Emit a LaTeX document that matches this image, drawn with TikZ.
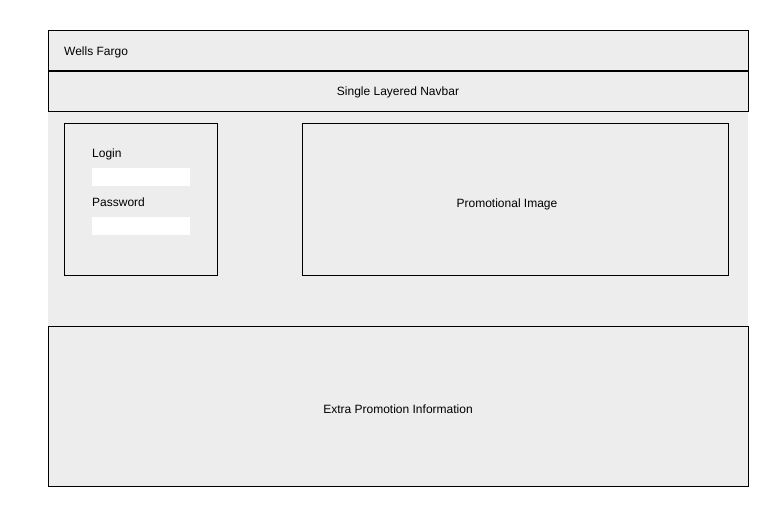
\documentclass[tikz,border=0pt]{standalone}
\usepackage{fontspec}
\setmainfont{Liberation Sans}
\definecolor{panel}{HTML}{EDEDED}
\tikzset{
  frame/.style={draw=black, fill=panel, line width=1pt},
  field/.style={fill=white, draw=none},
  lbl/.style={font=\fontsize{12}{14}\selectfont, text=black, inner sep=0pt},
}
\begin{document}
\begin{tikzpicture}[x=1pt,y=-1pt]
\useasboundingbox (0,0) rectangle (781,520);
% content background
\fill[panel] (48,111) rectangle (748,326);
% header
\draw[frame] (48,30) rectangle (748,71);
\node[lbl, anchor=west] (brand) at (64,52) {Wells Fargo};
% navbar
\draw[frame] (48,71) rectangle (748,111);
\draw[line width=2pt] (48,71) -- (748,71);
\node[lbl] (nav) at (398,92.5) {Single Layered Navbar};
% login box
\draw[frame] (64,123) rectangle (217,275);
\node[lbl, anchor=west] (login) at (92,154.5) {Login};
\fill[field] (92,168) rectangle (190,186);
\node[lbl, anchor=west] (pass) at (92,202.5) {Password};
\fill[field] (92,217) rectangle (190,235);
% promo image
\draw[frame] (302,123) rectangle (728,275);
\node[lbl] (promo) at (507,204.5) {Promotional Image};
% extra
\draw[frame] (48,326) rectangle (748,486);
\node[lbl] (extra) at (398,409.5) {Extra Promotion Information};
\end{tikzpicture}
\end{document}
